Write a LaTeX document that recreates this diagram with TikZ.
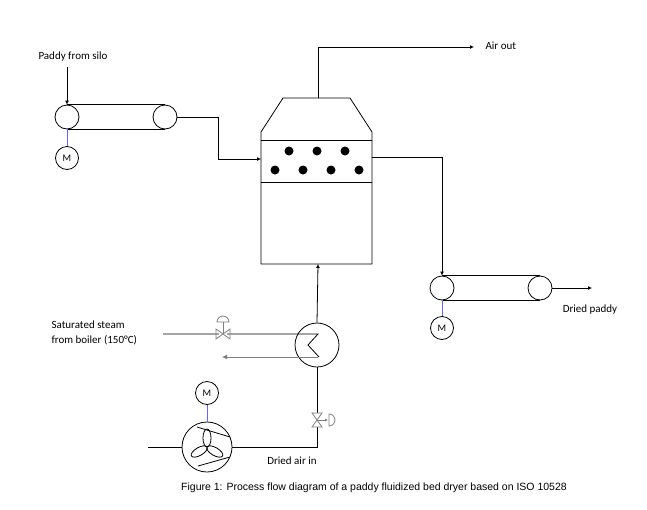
\documentclass[tikz,border=0pt]{standalone}
\usepackage{fontspec}
\setmainfont{Carlito}
\newfontfamily\capfont{Liberation Sans}
\usetikzlibrary{arrows.meta}
\tikzset{
  pipe/.style={thick},
  flow/.style={thick,-{Latex[length=4pt,width=4pt]}},
  pulley/.style={circle,draw,thick,minimum size=24pt,inner sep=0pt},
  motor/.style={circle,draw,thick,minimum size=23pt,inner sep=0pt,font=\fontsize{10}{11}\selectfont},
  shaft/.style={blue!60,thick},
  lbl/.style={font=\fontsize{11}{15}\selectfont,align=left},
  dot/.style={circle,fill,inner sep=0pt,minimum size=9pt}
}
\begin{document}
\begin{tikzpicture}[x=1pt,y=-1pt]
    \useasboundingbox (0,0) rectangle (647,509);

    % dryer
    \draw[pipe] (261,264) -- (261,132) -- (283,98) -- (350,98) -- (372,132) -- (372,264) -- cycle;
    \draw[pipe] (261,140) -- (372,140);
    \draw[pipe] (261,182) -- (372,182);
    \foreach \x in {289,317,345}{
        \node[dot] at (\x,151) {};
    }
    \foreach \x in {275,303,331,359}{
        \node[dot] at (\x,170) {};
    }
    \coordinate (dryin) at (261,159);
    \coordinate (dryout) at (372,157);
    \coordinate (drytop) at (318,98);
    \coordinate (drybot) at (318,264);

    % feed conveyor
    \node[pulley] (p1) at (67,117) {};
    \node[pulley] (p2) at (165,117) {};
    \draw[pipe] (p1.north) -- (p2.north) (p1.south) -- (p2.south);
    \node[motor] (m1) at (67,158) {M};
    \draw[shaft] (p1.south) -- (m1.north);
    \node[lbl] (silo) at (73,57) {Paddy from silo};
    \draw[flow] (67,67) -- (p1.north);
    \draw[flow] (p2.east) -| (218,159) -- (dryin);

    % air out
    \coordinate (airend) at (474,47);
    \draw[flow] (drytop) |- (airend);
    \node[lbl,anchor=west] (air) at (482,46) {Air out};

    % product conveyor
    \node[pulley] (p3) at (442,288) {};
    \node[pulley] (p4) at (540,288) {};
    \draw[pipe] (p3.north) -- (p4.north) (p3.south) -- (p4.south);
    \node[motor] (m2) at (442,328) {M};
    \draw[shaft] (p3.south) -- (m2.north);
    \draw[flow] (dryout) -| (p3.north);
    \coordinate (prodend) at (592,288);
    \draw[flow] (p4.east) -- (prodend);
    \node[lbl] (prod) at (590,310) {Dried paddy};

    % heater
    \node[circle,draw,thick,minimum size=44pt,inner sep=0pt] (hx) at (317,345) {};
    \draw[flow] (hx.north) -- (drybot);
    \draw[pipe] (163,334) -- (219,334) (227,334) -- (318,334) -- (308,345) -- (319,357);
    \draw[gray,thick,-{Latex[length=5pt,width=5pt]}] (318,357) -- (222,357);
    \node[lbl,anchor=west] (steam) at (48,333) {Saturated steam\\from boiler (150°C)};
    % steam valve
    \draw[gray,thick] (216,329) -- (216,339) -- (230,329) -- (230,339) -- cycle;
    \draw[gray,thick] (223,334) -- (223,322);
    \draw[gray,thick] (217,322) arc (180:360:6) -- cycle;

    % fan
    \node[circle,draw,thick,minimum size=50pt,inner sep=0pt] (fan) at (207,447) {};
    \draw[thick] (197,427) -- (230,437) (198,466) -- (230,457);
    \foreach \a in {90,210,330}{
        \draw[thick,rotate around={\a:(207,447)}] (216,447) ellipse (9 and 4);
    }
    \node[motor] (m3) at (207,393) {M};
    \draw[shaft] (m3.south) -- (fan.north);
    \draw[pipe] (148,447) -- (fan.west);
    \draw[pipe] (fan.east) -- (317,447) -- (317,427) (317,413) -- (hx.south);
    \node[lbl] (dai) at (292,461) {Dried air in};
    % air valve
    \draw[gray,thick] (312,413) -- (322,413) -- (312,427) -- (322,427) -- cycle;
    \draw[gray,thick,-{Latex[length=3pt,width=3pt]}] (317,420) -- (328,420);
    \draw[gray,thick] (329,414) arc (-90:90:6) -- cycle;

    \node[font=\capfont\fontsize{10.5}{12}\selectfont] (cap) at (374,488) {Figure 1: Process flow diagram of a paddy fluidized bed dryer based on ISO 10528};
\end{tikzpicture}
\end{document}
